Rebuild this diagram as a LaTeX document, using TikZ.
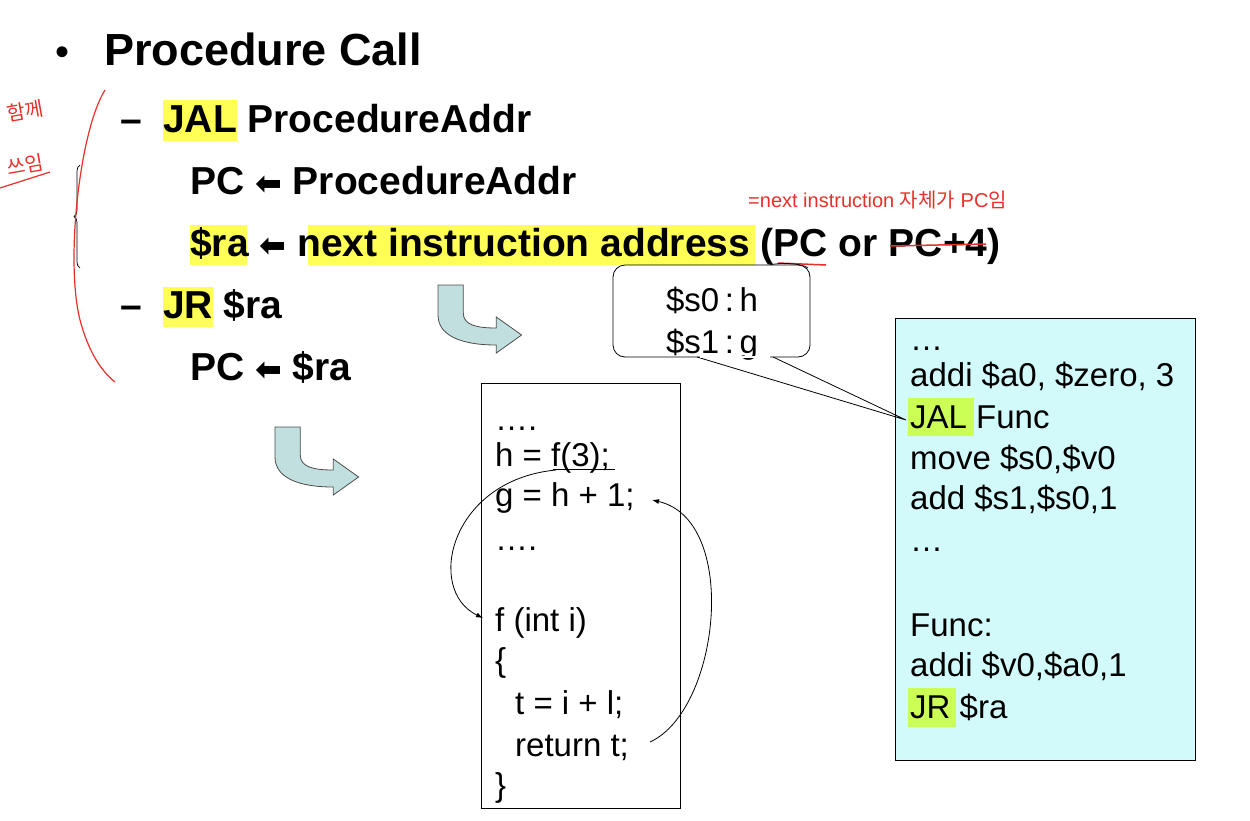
\documentclass[tikz,border=0pt]{standalone}
\usepackage{fontspec}
\setmainfont{Liberation Sans}
\newfontfamily\arrowfont{DejaVu Sans}
\newfontfamily\krfont{Noto Sans CJK KR}
\usetikzlibrary{decorations.pathreplacing,arrows.meta}
\definecolor{hl}{HTML}{FFFF55}
\definecolor{hlg}{HTML}{CCFF55}
\definecolor{cyanbox}{HTML}{D3FAFB}
\definecolor{barrow}{HTML}{C2DFE0}
\definecolor{pen}{HTML}{E8302A}
\tikzset{
  big/.style={font=\fontsize{39}{40}\selectfont\bfseries, anchor=base west, inner sep=0pt},
  code/.style={font=\fontsize{33}{35}\selectfont, anchor=base west, inner sep=0pt},
  hand/.style={text=pen, anchor=base west, inner sep=0pt},
  blk/.pic={\draw[fill=barrow, draw=black!70, line width=0.8pt, xscale=1.1] (0,0) -- (23,0) -- (23,28) .. controls (23,40) and (35,43) .. (53,43) -- (53,32) -- (76,50) -- (53,68) -- (53,60) .. controls (20,60) and (0,50) .. (0,30) -- cycle;}
}
\newcommand{\la}{{\arrowfont\fontsize{32}{32}\selectfont ⬅}}
\begin{document}
\begin{tikzpicture}[x=1pt,y=-1pt]
\useasboundingbox (0,0) rectangle (1250,820);
% highlights
\fill[hl] (163,100) rectangle (237,141);
\fill[hl] (190,225) rectangle (247,265);
\fill[hl] (308,225) rectangle (755,265);
\fill[hl] (163,287) rectangle (213,327);
\node[anchor=base west, inner sep=0pt, font=\fontsize{40}{40}\selectfont] (bul) at (55,65) {•};
\node[big, font=\fontsize{45}{46}\selectfont\bfseries] (title) at (104,65) {Procedure Call};
\node[big] (d1) at (120,132) {–};
\node[big] (l1) at (163,132) {JAL ProcedureAddr};
\node[big] (l2) at (190,194) {PC \la{} ProcedureAddr};
\node[big] (l3) at (190,256) {\$ra \la{} next instruction address (PC or PC+4)};
\node[big] (d2) at (120,318) {–};
\node[big] (l4) at (163,318) {JR \$ra};
\node[big] (l5) at (190,380) {PC \la{} \$ra};
% brace
\draw[decorate, decoration={brace, amplitude=6pt}, line width=0.7pt] (80,268) -- (80,165);
% red annotations
\draw[pen, line width=1.2pt] (105,90) .. controls (80,130) and (65,260) .. (80,320) .. controls (88,350) and (100,370) .. (115,382);
\node[hand, font=\krfont\fontsize{20}{20}\selectfont, rotate=10] (k1) at (8,122) {함께};
\node[hand, font=\krfont\fontsize{20}{20}\selectfont, rotate=10] (k2) at (8,176) {쓰임};
\draw[pen, line width=1.2pt] (0,188) -- (50,172);
\node[hand, font=\fontsize{20}{20}\selectfont] (ann) at (748,207) {=next instruction {\krfont 자체가} PC{\krfont 임}};
\draw[pen, line width=1.5pt] (778,263) -- (826,265);
\draw[pen, line width=1.5pt] (890,246) -- (986,244);
\draw[line width=0.7pt] (760,268) .. controls (770,262) and (800,262) .. (808,268);
% block arrows
\pic at (438,285) {blk};
\pic at (275,427) {blk};
% register box
\draw[rounded corners=12pt, line width=0.8pt, fill=white] (613,265) rectangle (810,357);
\node[code, anchor=base] (s0) at (712,311) {\$s0\,:\,h};
\node[code, anchor=base] (s1) at (712,353) {\$s1\,:\,g};
% code box
\draw[line width=0.8pt] (481,383) rectangle (680,808);
\node[code] (c1) at (495,430) {….};
\node[code] (c2) at (495,466) {h = f(3);};
\draw[line width=0.8pt] (553,469) -- (615,469);
\node[code] (c3) at (495,506) {g = h + 1;};
\node[code] (c4) at (495,550) {….};
\node[code] (c5) at (495,631) {f (int i)};
\node[code] (c6) at (495,671) {\{};
\node[code] (c7) at (515,714) {t = i + l;};
\node[code] (c8) at (515,756) {return t;};
\node[code] (c9) at (495,796) {\}};
\coordinate (a1s) at (556,470);
\coordinate (a1e) at (483,618);
\coordinate (a2s) at (650,742);
\coordinate (a2e) at (652,500);
\draw[-{Latex[length=7pt,width=5pt]}, line width=0.8pt] (a1s) .. controls (450,480) and (425,590) .. (a1e);
\draw[-{Latex[length=7pt,width=5pt]}, line width=0.8pt] (a2s) .. controls (720,710) and (740,520) .. (a2e);
% cyan box
\draw[fill=cyanbox, line width=0.8pt] (895,318) rectangle (1195,760);
\fill[hlg] (908,398) rectangle (974,436);
\fill[hlg] (908,688) rectangle (956,727);
\node[code] (r1) at (910,350) {…};
\node[code] (r2) at (910,386) {addi \$a0, \$zero, 3};
\node[code] (r3) at (910,428) {JAL Func};
\node[code] (r4) at (910,469) {move \$s0,\$v0};
\node[code] (r5) at (910,509) {add \$s1,\$s0,1};
\node[code] (r6) at (910,551) {…};
\node[code] (r7) at (910,636) {Func:};
\node[code] (r8) at (910,676) {addi \$v0,\$a0,1};
\node[code] (r9) at (910,718) {JR \$ra};
% callout
\coordinate (tip) at (906,420);
\draw[line width=0.8pt] (697,357) -- (tip) -- (773,357);
\draw[white, line width=1.2pt] (700,357) -- (770,357);
\end{tikzpicture}
\end{document}
